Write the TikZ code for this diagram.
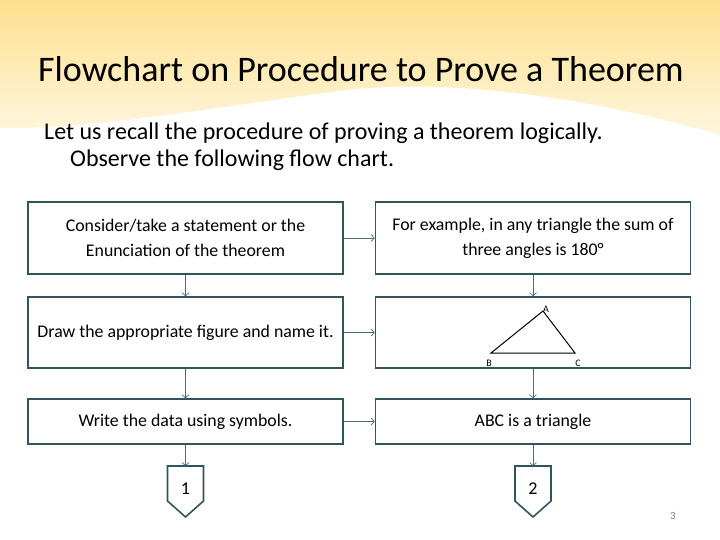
\documentclass[tikz,border=0pt]{standalone}
\usepackage{fontspec}
\usetikzlibrary{arrows.meta}
\setmainfont{Carlito}
\definecolor{bd}{HTML}{31555F}
\definecolor{ar}{HTML}{4A6A80}
\definecolor{yl}{HTML}{FDE08E}
\begin{document}
\begin{tikzpicture}[x=1pt,y=-1pt,
 box/.style={draw=bd,line width=1.6pt,minimum width=315pt,align=center,font=\fontsize{17.8}{25}\selectfont,inner sep=2pt},
 arr/.style={draw=ar,line width=0.7pt,-{Straight Barb[length=3pt,width=7pt]}}]
\useasboundingbox (0,0) rectangle (720,540);
\fill[white] (0,0) rectangle (720,540);
\shade[top color=yl,bottom color=yl!30] (0,0) -- (720,0) -- (720,135) .. controls (600,100) and (450,75) .. (330,92) .. controls (200,110) and (80,130) .. (0,128) -- cycle;
\node[anchor=west,font=\fontsize{36}{40}\selectfont,inner sep=0] (t) at (38,69) {Flowchart on Procedure to Prove a Theorem};
\node[anchor=north west,align=left,font=\fontsize{24}{27}\selectfont,inner sep=0] (s) at (44,123) {Let us recall the procedure of proving a theorem logically.\\\hspace*{26pt}Observe the following flow chart.};
\node[box,minimum height=72pt] (a1) at (185.5,238) {Consider/take a statement or the\\Enunciation of the theorem};
\node[box,minimum height=72pt] (b1) at (533,238) {For example, in any triangle the sum of\\three angles is 180\textdegree};
\node[box,minimum height=71pt] (a2) at (185.5,332.5) {Draw the appropriate figure and name it.};
\node[box,minimum height=71pt] (b2) at (533,332.5) {};
\node[box,minimum height=45pt] (a3) at (185.5,421.5) {Write the data using symbols.};
\node[box,minimum height=45pt] (b3) at (533,421.5) {ABC is a triangle};
\coordinate (A) at (543,311); \coordinate (B) at (491,353); \coordinate (C) at (575,353);
\draw[line width=1pt] (A) -- (B) -- (C) -- cycle;
\node[font=\fontsize{10}{11}\selectfont,inner sep=0] (la) at (546,309) {A};
\node[font=\fontsize{10}{11}\selectfont,inner sep=0] (lb) at (489,363) {B};
\node[font=\fontsize{10}{11}\selectfont,inner sep=0] (lc) at (578,363) {C};
\foreach \x/\n/\t in {185.5/p1/1,533/p2/2}{
 \draw[bd,line width=1.6pt,fill=white] (\x-18,466) -- (\x+18,466) -- (\x+18,501) -- (\x,517) -- (\x-18,501) -- cycle;
 \node[font=\fontsize{18}{20}\selectfont] (\n) at (\x,489) {\t};
 \coordinate (\n t) at (\x,466);
}
\draw[arr] (a1) -- (b1);
\draw[arr] (a2) -- (b2);
\draw[arr] (a3) -- (b3);
\draw[arr] (a1.south) -- (a2.north);
\draw[arr] (b1.south) -- (b2.north);
\draw[arr] (a2.south) -- (a3.north);
\draw[arr] (b2.south) -- (b3.north);
\draw[arr] (a3.south) -- (p1t);
\draw[arr] (b3.south) -- (p2t);
\node[font=\fontsize{11}{12}\selectfont,text=gray] (pg) at (673,516) {3};
\end{tikzpicture}
\end{document}
